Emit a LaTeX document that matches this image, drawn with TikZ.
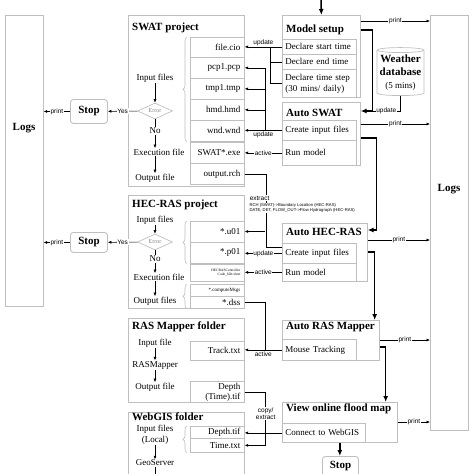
\documentclass[tikz,border=0pt]{standalone}
\usepackage{fontspec}
\setmainfont{Liberation Serif}
\setsansfont{Liberation Sans}
\usetikzlibrary{arrows.meta,shapes.geometric,decorations.pathreplacing}

\tikzset{
	grp/.style = {draw=gray!50, line width=0.7pt, anchor=north west, inner sep=0pt},
	fcell/.style = {grp, minimum width=54, text width=46, align=right, font=\fontsize{9}{10}\selectfont},
	rowc/.style = {grp, inner xsep=3pt, align=left, font=\fontsize{9}{11}\selectfont},
	ttl/.style = {anchor=west, inner sep=0pt, font=\fontsize{11}{13}\selectfont\bfseries},
	txt/.style = {inner sep=0.5pt, align=center, font=\fontsize{9}{10.5}\selectfont},
	errd/.style = {diamond, draw=gray!50, line width=0.7pt, minimum width=35, minimum height=16, inner sep=0pt, aspect=2.2, text=gray, font=\fontsize{6}{7}\selectfont},
	stopbox/.style = {draw=gray!50, line width=0.9pt, rounded corners=3pt, anchor=north west, minimum width=37, inner sep=0pt, font=\fontsize{11}{13}\selectfont\bfseries},
	lab/.style = {inner sep=0.6pt, font=\sffamily\fontsize{6.5}{7}\selectfont},
	tinylab/.style = {inner sep=0.3pt, fill=white, align=left, anchor=north west, font=\sffamily\fontsize{4.2}{4.8}\selectfont},
	arr/.style = {-{Latex[length=3.5pt,width=3pt]}, line width=0.55pt},
	thk/.style = {-{Latex[length=6pt,width=5pt]}, line width=1.5pt},
	brc/.style = {draw=gray!50, line width=0.6pt, decorate, decoration={brace, amplitude=4pt}},
	db/.style = {cylinder, shape border rotate=90, aspect=0.12, draw=gray!50, line width=0.7pt, minimum width=47, minimum height=48, inner sep=0pt, align=center, font=\fontsize{11}{13}\selectfont\bfseries}
}

\begin{document}
\begin{tikzpicture}[x=1pt, y=-1pt]
	\useasboundingbox (0,0) rectangle (474,474);
	\clip (0,0) rectangle (474,474);

	\node[grp, minimum width=38, minimum height=291] (logsL) at (5,15) {};
	\node[ttl, anchor=center] at (24,128) {Logs};
	\node[grp, minimum width=38, minimum height=415] (logsR) at (430,15) {};
	\node[ttl, anchor=center] at (449,189) {Logs};

	\node[grp, minimum width=116, minimum height=171] (swatP) at (128,15) {};
	\node[ttl] at (132,28) {SWAT project};
	\node[fcell, minimum height=20] (cio) at (190,37) {file.cio};
	\node[fcell, minimum height=21] (pcp) at (190,57) {pcp1.pcp};
	\node[fcell, minimum height=21] (tmp) at (190,78) {tmp1.tmp};
	\node[fcell, minimum height=21] (hmd) at (190,99) {hmd.hmd};
	\node[fcell, minimum height=21] (wnd) at (190,120) {wnd.wnd};
	\node[fcell, minimum height=21] (exe) at (190,142) {SWAT*.exe};
	\node[fcell, minimum height=21] (rch) at (190,163) {output.rch};
	\draw[brc] ([xshift=-3pt]wnd.south west) -- ([xshift=-3pt]cio.north west);
	\node[txt] (inA) at (155,78) {Input files};
	\node[errd] (errA) at (155,111) {Error};
	\node[txt] (noA) at (155,131) {No};
	\node[txt] (exA) at (159,152) {Execution file};
	\node[txt] (outA) at (155,178) {Output file};
	\node[stopbox, minimum height=24] (stopA) at (70,99) {Stop};

	\node[grp, minimum width=116, minimum height=113] (hecP) at (128,195) {};
	\node[ttl] at (132,205) {HEC-RAS project};
	\node[fcell, minimum height=21] (u01) at (190,221) {*.u01};
	\node[fcell, minimum height=21] (p01) at (190,242) {*.p01};
	\node[fcell, minimum height=17, font=\fontsize{3.6}{4.2}\selectfont] (ctrl) at (190,264) {HECRASController\\Code\_h2h.xlsm};
	\node[fcell, minimum height=12, font=\fontsize{5}{6}\selectfont] (msgs) at (190,284) {*.computeMsgs};
	\node[fcell, minimum height=12] (dss) at (190,296) {*.dss};
	\draw[brc] ([xshift=-3pt]p01.south west) -- ([xshift=-3pt]u01.north west);
	\draw[brc] ([xshift=-3pt]dss.south west) -- ([xshift=-3pt]msgs.north west);
	\node[txt] (inB) at (155,220) {Input files};
	\node[errd] (errB) at (155,242) {Error};
	\node[txt] (noB) at (155,259) {No};
	\node[txt] (exB) at (159,277) {Execution file};
	\node[txt] (outB) at (155,301) {Output files};
	\node[stopbox, minimum height=20] (stopB) at (70,232) {Stop};

	\node[grp, minimum width=116, minimum height=84] (rasP) at (128,318) {};
	\node[ttl] at (132,327) {RAS Mapper folder};
	\node[fcell, minimum height=19] (track) at (190,341) {Track.txt};
	\node[fcell, minimum height=21] (dtif) at (190,381) {Depth\\(Time).tif};
	\node[txt] (inC) at (155,343) {Input file};
	\node[txt] (rasm) at (155,365) {RASMapper};
	\node[txt] (outC) at (155,387) {Output file};

	\node[grp, minimum width=116, minimum height=80] (webP) at (128,412) {};
	\node[ttl] at (132,417) {WebGIS folder};
	\node[fcell, minimum height=12] (gtif) at (190,426) {Depth.tif};
	\node[fcell, minimum height=14] (ttxt) at (190,438) {Time.txt};
	\draw[brc] ([xshift=-3pt]ttxt.south west) -- ([xshift=-3pt]gtif.north west);
	\node[txt] (inD) at (155,435) {Input files\\(Local)};
	\node[txt] (geo) at (155,463) {GeoServer};

	\node[grp, minimum width=78, minimum height=82] (mset) at (282,15) {};
	\node[ttl] at (286,30) {Model setup};
	\node[rowc, text width=68, minimum height=15] (rstart) at (282,39) {Declare start time};
	\node[rowc, text width=68, minimum height=15] (rend) at (282,54) {Declare end time};
	\node[rowc, text width=68, minimum height=28] (rstep) at (282,69) {Declare time step\\(30 mins/ daily)};
	\node[db] (wdb) at (400.5,73) {Weather\\database\\{\normalfont\fontsize{9}{10}\selectfont(5 mins)}};

	\node[grp, minimum width=78, minimum height=63] (aswat) at (282,102) {};
	\node[ttl] at (286,113) {Auto SWAT};
	\node[rowc, text width=68, minimum height=20] (screate) at (282,120) {Create input files};
	\node[rowc, text width=68, minimum height=25] (srun) at (282,140) {Run model};

	\node[grp, minimum width=85, minimum height=58] (ahec) at (282,223) {};
	\node[ttl] at (286,232) {Auto HEC-RAS};
	\node[rowc, text width=68, minimum height=20] (hcreate) at (282,243) {Create input files};
	\node[rowc, text width=68, minimum height=18] (hrun) at (282,263) {Run model};

	\node[grp, minimum width=97, minimum height=40] (aras) at (282,320) {};
	\node[ttl] at (286,327) {Auto RAS Mapper};
	\node[rowc, text width=68, minimum height=21] (mouse) at (282,339) {Mouse Tracking};

	\node[grp, minimum width=115, minimum height=40] (aview) at (282,402) {};
	\node[ttl] at (286,409) {View online flood map};
	\node[rowc, text width=77, minimum height=19] (connect) at (282,423) {Connect to WebGIS};

	\node[stopbox, minimum width=36, minimum height=20] (stopC) at (322,456) {Stop};

	\coordinate (entry) at (321,-2);
	\draw[thk] (entry) -- (mset.north);
	\draw[thk] ([yshift=-15pt]mset.north east) -- ++(12,0) |- ([yshift=-9pt]aswat.north east);
	\coordinate (jW) at (372,111);
	\draw (wdb.south) |- (jW) node[lab, pos=0.75, fill=white] {update};
	\draw[thk] ([yshift=-36pt]aswat.north east) -- ++(16,0) |- ([yshift=-7pt]ahec.north east);
	\draw[thk] ([yshift=-29pt]ahec.north east) -| ([xshift=-5pt]aras.north east);
	\draw[thk] ([yshift=-27pt]aras.north east) -| ([xshift=-12pt]aview.north east);
	\draw[thk] (aview.south) -- (aview.south |- stopC.north);

	\coordinate (pA) at ([yshift=-6pt]mset.north east);
	\coordinate (pB) at ([yshift=-22pt]aswat.north east);
	\coordinate (pC) at ([yshift=-17pt]ahec.north east);
	\coordinate (pD) at ([yshift=-20pt]aras.north east);
	\coordinate (pE) at ([yshift=-20pt]aview.north east);
	\foreach \p in {pA,pB,pC,pD,pE}
		\draw[arr] (\p) -- (\p -| logsR.west) node[lab, midway, fill=white] {print};

	\draw[arr] (rstart.west) -- (rstart.west -| cio.east) node[lab, midway, above=0.5pt] {update};
	\coordinate (jA) at (270,46.5);
	\draw (rend.west) -| (jA);
	\draw (rstep.west) -| (jA);

	\draw[arr] (screate.west) -- (screate.west -| wnd.east) node[lab, midway, below=0.5pt] {update};
	\coordinate (jB) at (265,130);
	\foreach \f in {pcp,tmp,hmd}
		\draw[arr] (jB) |- (\f.east);
	\draw[arr] (srun.west) -- (srun.west -| exe.east) node[lab, midway, fill=white] {active};

	\draw (rch.east) -- ++(21,0) |- ([yshift=-4pt]hcreate.north west);
	\coordinate (jC) at (265,231.5);
	\draw[arr] (jC) -- (jC -| u01.east);
	\draw[arr] (hcreate.west) -- (hcreate.west -| p01.east) node[lab, midway, fill=white] {update};
	\draw[arr] (hrun.west) -- (hrun.west -| ctrl.east) node[lab, midway, fill=white] {active};

	\coordinate (jD) at (265,349.5);
	\draw (dss.east) -| (jD);
	\draw[arr] (mouse.west) -- (mouse.west -| track.east) node[lab, midway, below=1pt] {active};

	\draw[arr] (dtif.east) -- ++(21,0) |- (ttxt.east) node[lab, pos=0.2, fill=white, align=center] {copy/\\extract};
	\draw[arr] (connect.west) -- (connect.west -| gtif.east);

	\draw[arr] (inA) -- (errA);
	\draw (errA) -- (noA);
	\draw[arr] (noA) -- (noA |- exA.north);
	\draw[arr] (exA.south -| noA) -- (outA);
	\draw[arr] (errA) -- (stopA) node[lab, midway, fill=white] {Yes};
	\draw[arr] (stopA) -- (stopA -| logsL.east) node[lab, midway, fill=white] {print};

	\draw[arr] (inB) -- (errB);
	\draw (errB) -- (noB);
	\draw[arr] (noB) -- (noB |- exB.north);
	\draw[arr] (exB.south -| noB) -- (outB);
	\draw[arr] (errB) -- (stopB) node[lab, midway, fill=white] {Yes};
	\draw[arr] (stopB) -- (stopB -| logsL.east) node[lab, midway, fill=white] {print};

	\draw[arr] (inC) -- (rasm);
	\draw[arr] (rasm) -- (outC);
	\coordinate (geoout) at (155,482);
	\draw[arr] (inD) -- (geo);
	\draw[arr] (geo) -- (geoout);

	\node[lab, fill=white, anchor=west] (ext) at (249,198) {extract};
	\node[tinylab] at (249,203) {RCH (SWAT)->Boundary Location (HEC-RAS)\\DATE, DET, FLOW\_OUT->Flow Hydrograph (HEC-RAS)};
\end{tikzpicture}
\end{document}
